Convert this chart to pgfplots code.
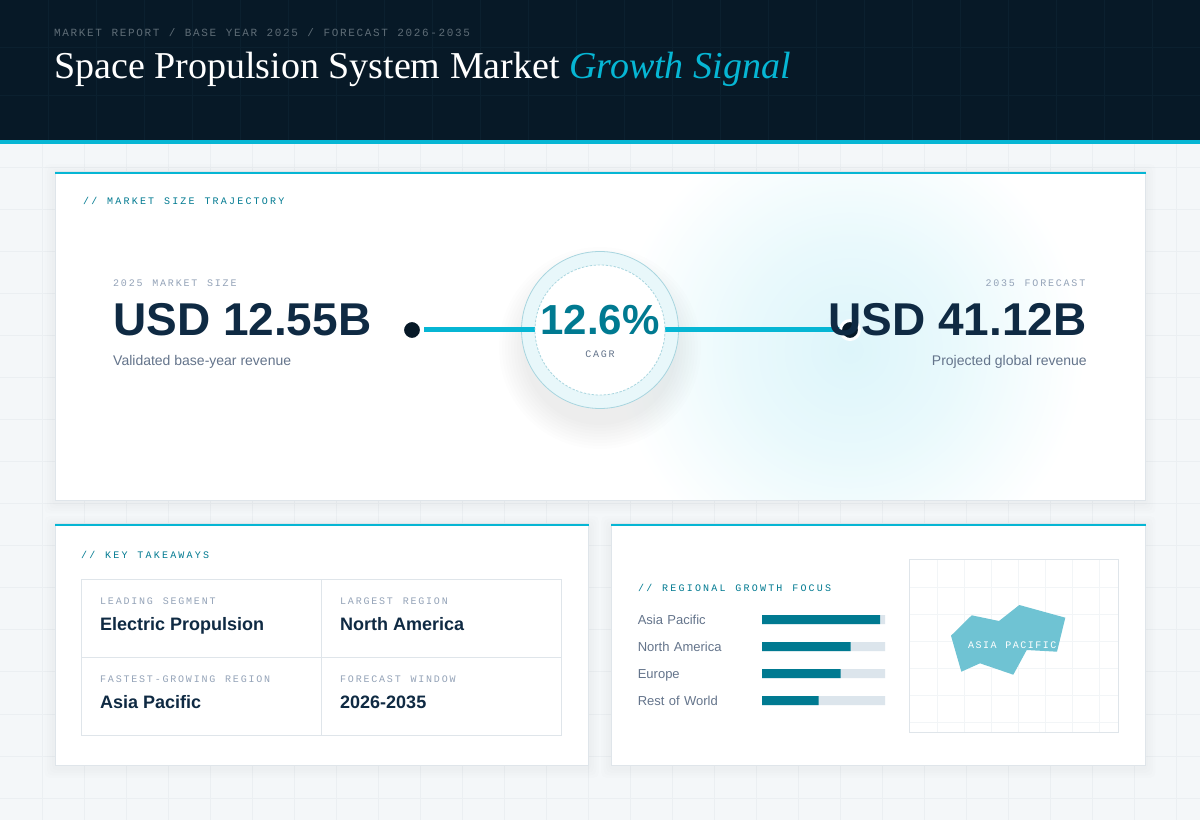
\documentclass[border=0pt]{standalone}
\usepackage{pgfplots}
\pgfplotsset{compat=1.18}
\usepackage{fontspec}
\setmainfont{Liberation Sans}
\newfontfamily\serif{Liberation Serif}
\newfontfamily\monoH[LetterSpace=15,WordSpace=1.15]{Liberation Mono}
\newfontfamily\monoS[LetterSpace=22,WordSpace=1.2]{Liberation Mono}
\newfontfamily\monoL[LetterSpace=18,WordSpace=1.25]{Liberation Mono}
\newfontfamily\monoM[LetterSpace=15,WordSpace=1.15]{Liberation Mono}
\definecolor{navy}{HTML}{071927}
\definecolor{hgrid}{HTML}{0B202F}
\definecolor{pagebg}{HTML}{F4F7F9}
\definecolor{pgrid}{HTML}{EBEFF2}
\definecolor{cyanc}{HTML}{06B6D4}
\definecolor{tealc}{HTML}{007A91}
\definecolor{inkc}{HTML}{0F2A43}
\definecolor{slatec}{HTML}{64748B}
\definecolor{mutec}{HTML}{94A3B8}
\definecolor{hlabel}{HTML}{5E6C76}
\definecolor{borderc}{HTML}{DFE5EA}
\definecolor{trackc}{HTML}{DCE5EC}
\definecolor{mapc}{HTML}{6FC3D3}
\definecolor{mapgrid}{HTML}{F2F5F7}
\definecolor{ringc}{HTML}{E8F7FA}
\definecolor{ringb}{HTML}{A8D5DF}
\definecolor{glowA}{HTML}{DDF5FA}
\definecolor{glowB}{HTML}{E9F9FC}
\definecolor{shadowc}{HTML}{0A3A4C}
\pgfdeclareradialshading{glow}{\pgfpointorigin}{color(0bp)=(glowA); color(11bp)=(glowB); color(24.5bp)=(white); color(50bp)=(white)}
\newcommand\cardedge[4]{%
  \draw[borderc,line width=1pt] (#1+.5,#2) rectangle (#3-.5,#4-.5);
  \fill[cyanc] (#1,#2) rectangle (#3,#2+2);}
\newcommand\card[4]{%
  \foreach \i in {4,3,2,1}{\fill[shadowc,fill opacity=0.008,rounded corners=5pt] (#1-\i*2.5,#2+2-\i*2.5) rectangle (#3+\i*2.5,#4+2+\i*2.5);}
  \fill[white] (#1,#2) rectangle (#3,#4);
  \cardedge{#1}{#2}{#3}{#4}}
\begin{document}
\begin{tikzpicture}
\path[use as bounding box] (0,0) rectangle (1200pt,820pt);
\begin{scope}[x=1pt,y=-1pt,yshift=820pt]
  \fill[pagebg] (0,0) rectangle (1200,820);
  \foreach \v in {42,84,...,1198}{\draw[pgrid,line width=1pt] (\v,144) -- (\v,820);}
  \foreach \v in {168,210,...,818}{\draw[pgrid,line width=1pt] (0,\v) -- (1200,\v);}
  \fill[navy] (0,0) rectangle (1200,140);
  \foreach \v in {48,96,...,1198}{\draw[hgrid,line width=1pt] (\v,0) -- (\v,140);}
  \foreach \v in {48,96}{\draw[hgrid,line width=1pt] (0,\v) -- (1200,\v);}
  \fill[cyanc] (0,140) rectangle (1200,144);
  \card{54.5}{172}{1145.5}{501.5}
  \card{54.5}{524}{588.8}{765.8}
  \card{611.2}{524}{1145.5}{765.8}
  % glow
  \begin{scope}
    \clip (55.5,174) rectangle (1144.5,500.5);
    \shade[shading=glow] (850,350) circle (240);
    \foreach \i in {9,8,...,1}{\fill[shadowc,fill opacity=0.008] (600,348) circle (74+\i*3);}
  \end{scope}
  \cardedge{54.5}{172}{1145.5}{501.5}
  \filldraw[fill=ringc,draw=ringb,line width=.8pt] (600,330) circle (78.5);
  % takeaways grid
  \draw[borderc,line width=1pt] (81.5,579.5) rectangle (561.5,735.5);
  \draw[borderc,line width=1pt] (321.5,579.5) -- (321.5,735.5);
  \draw[borderc,line width=1pt] (81.5,657.5) -- (561.5,657.5);
  % map
  \fill[white] (909.5,559.5) rectangle (1118.5,732.5);
  \foreach \v in {937.5,964.5,...,1100}{\draw[mapgrid,line width=1pt] (\v,559.5) -- (\v,732.5);}
  \foreach \v in {587.5,614.5,...,723}{\draw[mapgrid,line width=1pt] (909.5,\v) -- (1118.5,\v);}
  \draw[borderc,line width=1pt] (909.5,559.5) rectangle (1118.5,732.5);
\end{scope}

% pixel-space axis: trajectory line, end points, region shape
\begin{axis}[at={(0pt,0pt)},anchor=south west,scale only axis,width=1200pt,height=820pt,
  xmin=0,xmax=1200,ymin=0,ymax=820,y dir=reverse,axis lines=none,clip=false]
  \addplot[cyanc,line width=5pt,no markers] coordinates {(424,329.8) (850,329.8)};
  \draw[fill=white,draw=ringb,line width=.8pt,dash pattern=on 2.5pt off 1.5pt] (axis cs:600,330) circle[radius=65];
  \addplot[only marks,mark=*,mark size=9.5pt,mark options={draw=white,fill=navy,line width=3pt}] coordinates {(412,330) (850,330)};
  \addplot[fill=mapc,draw=none] coordinates {(971.7,615.3) (999,621) (1019.3,605) (1065.3,617.7) (1057,651.7) (1026.7,650) (1013.3,674.7) (980,663.3) (961.3,671.7) (951,635.7)} -- cycle;
\end{axis}

% regional bars
\begin{axis}[at={(762pt,106pt)},anchor=south west,scale only axis,width=123pt,height=108pt,
  xmin=0,xmax=100,ymin=-0.5,ymax=3.5,y dir=reverse,clip=false,
  axis line style={draw=none},tick style={draw=none},major tick length=0pt,
  xtick=\empty,ytick={0,1,2,3},
  yticklabels={Asia Pacific,North America,Europe,Rest of World},
  yticklabel style={text width=124pt,align=left,inner sep=0pt,text=slatec,
    font=\fontsize{13}{15}\selectfont,text height=9.5pt,text depth=2.5pt,yshift=-1.5pt},
  xbar,bar width=9pt]
  \addplot[fill=trackc,draw=none,bar shift=0pt] coordinates {(100,0) (100,1) (100,2) (100,3)};
  \addplot[fill=tealc,draw=none,bar shift=0pt] coordinates {(96,0) (72,1) (64,2) (46,3)};
\end{axis}

\begin{scope}[x=1pt,y=-1pt,yshift=820pt]
  \newcommand\tw[4]{\node[anchor=base west,inner sep=0pt,text=#4] at (#1,#2) {#3};}
  \newcommand\te[4]{\node[anchor=base east,inner sep=0pt,text=#4] at (#1,#2) {#3};}
  \tw{54}{37}{\monoH\fontsize{11}{13}\selectfont MARKET REPORT / BASE YEAR 2025 / FORECAST 2026-2035}{hlabel}
  \tw{54}{78.5}{\serif\fontsize{38}{44}\selectfont Space Propulsion System Market \textcolor{cyanc}{\itshape Growth Signal}}{white}
  \tw{83}{205}{\monoS\fontsize{10}{12}\selectfont // MARKET SIZE TRAJECTORY}{tealc}
  \tw{113}{287}{\monoL\fontsize{10}{12}\selectfont 2025 MARKET SIZE}{mutec}
  \tw{113}{336}{\bfseries\fontsize{46}{50}\selectfont USD 12.55B}{inkc}
  \tw{113}{365.5}{\fontsize{14}{16}\selectfont Validated base-year revenue}{slatec}
  \te{1085.5}{287}{\monoL\fontsize{10}{12}\selectfont 2035 FORECAST}{mutec}
  \te{1087}{336}{\bfseries\fontsize{46}{50}\selectfont USD 41.12B}{inkc}
  \te{1087}{365.5}{\fontsize{14}{16}\selectfont Projected global revenue}{slatec}
  \node[anchor=base,inner sep=0pt,text=tealc] at (600,335) {\bfseries\fontsize{42}{46}\selectfont 12.6\%};
  \node[anchor=base,inner sep=0pt,text=slatec] at (600,358) {\monoL\fontsize{10}{12}\selectfont CAGR};
  \tw{81}{559}{\monoS\fontsize{10}{12}\selectfont // KEY TAKEAWAYS}{tealc}
  \tw{100}{605}{\monoL\fontsize{10}{12}\selectfont LEADING SEGMENT}{mutec}
  \tw{100}{630.5}{\bfseries\fontsize{18}{22}\selectfont Electric Propulsion}{inkc}
  \tw{340}{605}{\monoL\fontsize{10}{12}\selectfont LARGEST REGION}{mutec}
  \tw{340}{630.5}{\bfseries\fontsize{18}{22}\selectfont North America}{inkc}
  \tw{100}{683}{\monoL\fontsize{10}{12}\selectfont FASTEST-GROWING REGION}{mutec}
  \tw{100}{708.5}{\bfseries\fontsize{18}{22}\selectfont Asia Pacific}{inkc}
  \tw{340}{683}{\monoL\fontsize{10}{12}\selectfont FORECAST WINDOW}{mutec}
  \tw{340}{708.5}{\bfseries\fontsize{18}{22}\selectfont 2026-2035}{inkc}
  \tw{638}{592}{\monoS\fontsize{10}{12}\selectfont // REGIONAL GROWTH FOCUS}{tealc}
  \tw{968}{649}{\monoM\fontsize{10}{12}\selectfont ASIA PACIFIC}{white}
\end{scope}
\end{tikzpicture}
\end{document}
